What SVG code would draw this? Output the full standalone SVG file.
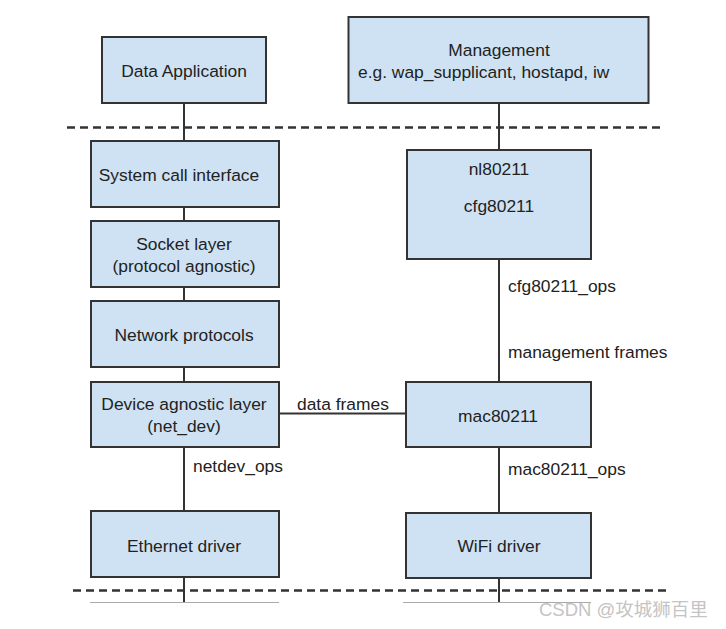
<svg xmlns="http://www.w3.org/2000/svg" width="726" height="629" viewBox="0 0 726 629">
<style>
.box{fill:#cfe2f3;stroke:#333;stroke-width:2}
.t{font-family:"Liberation Sans",Arial,sans-serif;font-size:17.4px;fill:#222}
.c{text-anchor:middle}
.ln{stroke:#333;stroke-width:2;fill:none}
.dash{stroke:#333;stroke-width:2.6;stroke-dasharray:8 5;fill:none}
.base{stroke:#aaa;stroke-width:1.2;fill:none}
.wm{font-family:"Liberation Sans","Noto Sans CJK SC",sans-serif;font-size:18.5px;fill:#c4c4c4}
</style>
<rect width="726" height="629" fill="#fff"/>
<g id="connectors">
<path class="dash" d="M67 127.5H664"/>
<path class="dash" d="M73 590.5H670"/>
<path class="base" d="M90 602.5H279M403 602.5H591"/>
<path class="ln" d="M184 103V141M184 207V221M184 287V301M184 367V382M184 447V511M184 577V602"/>
<path class="ln" d="M499 103V150M499 259V382M499 447V513M499 578V602"/>
<path class="ln" d="M279 413.5H406"/>
<text class="t" x="297" y="410">data frames</text>
<text class="t" x="508" y="292">cfg80211_ops</text>
<text class="t" x="508" y="358">management frames</text>
<text class="t" x="193" y="472">netdev_ops</text>
<text class="t" x="508" y="475">mac80211_ops</text>
</g>
<g id="data-application">
<rect class="box" x="102" y="37" width="164" height="66"/>
<text class="t c" x="184" y="77">Data Application</text>
</g>
<g id="management">
<rect class="box" x="348.5" y="17" width="300" height="86"/>
<text class="t c" x="499" y="56">Management</text>
<text class="t" x="358" y="78">e.g. wap_supplicant, hostapd, iw</text>
</g>
<g id="system-call-interface">
<rect class="box" x="91" y="141" width="188" height="66"/>
<text class="t c" x="179" y="181">System call interface</text>
</g>
<g id="socket-layer">
<rect class="box" x="91" y="221" width="188" height="66"/>
<text class="t c" x="184" y="250">Socket layer</text>
<text class="t c" x="184" y="272">(protocol agnostic)</text>
</g>
<g id="network-protocols">
<rect class="box" x="91" y="301" width="188" height="66"/>
<text class="t c" x="184" y="341">Network protocols</text>
</g>
<g id="device-agnostic-layer">
<rect class="box" x="91" y="382" width="188" height="65"/>
<text class="t c" x="184" y="410">Device agnostic layer</text>
<text class="t c" x="184" y="432">(net_dev)</text>
</g>
<g id="nl80211">
<rect class="box" x="407" y="150" width="184" height="109"/>
<text class="t c" x="499" y="175">nl80211</text>
<text class="t c" x="499" y="212">cfg80211</text>
</g>
<g id="mac80211">
<rect class="box" x="406" y="382" width="185" height="65"/>
<text class="t c" x="498" y="422">mac80211</text>
</g>
<g id="ethernet-driver">
<rect class="box" x="91" y="511" width="188" height="66"/>
<text class="t c" x="184" y="552">Ethernet driver</text>
</g>
<g id="wifi-driver">
<rect class="box" x="406" y="513" width="185" height="65"/>
<text class="t c" x="499" y="552">WiFi driver</text>
</g>
<text class="wm" x="539" y="616">CSDN @攻城狮百里</text>
</svg>
